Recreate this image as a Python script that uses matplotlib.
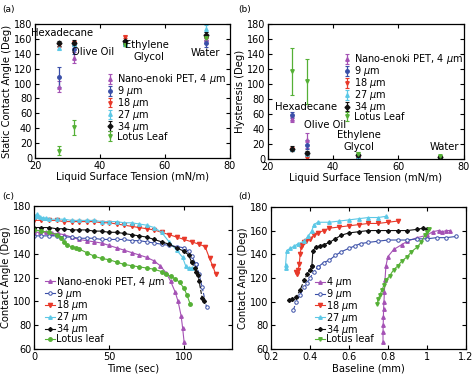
import numpy as np
import matplotlib
matplotlib.use('Agg')
import matplotlib.pyplot as plt

# ---- data ----
# liquid surface tensions (mN/m): hexadecane, olive oil, ethylene glycol, water
tension = [27.5, 32.0, 47.7, 72.8]

labels_ab = ['Nano-enoki PET, 4 $\\mu$m', '9 $\\mu$m', '18 $\\mu$m', '27 $\\mu$m', '34 $\\mu$m', 'Lotus Leaf']

# static contact angle (deg) and error
sca = [[96, 135, 155, 160],
       [109, 146, 153, 155],
       [152, 154, 163, 163],
       [148, 153, 153, 174],
       [154, 155, 157, 166],
       [10, 41, 152, 161]]
sca_err = [[7, 7, 2, 3],
           [13, 6, 2, 6],
           [3, 3, 2, 2],
           [3, 3, 2, 5],
           [3, 3, 2, 3],
           [6, 10, 2, 3]]

# hysteresis (deg) and error
hys = [[53, 25, 3, 3],
       [59, 19, 2, 2],
       [13, 2, 1, 2],
       [13, 7, 3, 3],
       [14, 8, 5, 3],
       [117, 104, 7, 4]]
hys_err = [[3, 10, 1, 1],
           [4, 6, 1, 1],
           [2, 2, 1, 1],
           [2, 2, 1, 1],
           [3, 3, 2, 1],
           [31, 30, 2, 1]]

# (c) contact angle vs time
t_4 = [0, 4, 8, 12, 16, 20, 25, 30, 35, 40, 45, 50, 55, 60, 65, 70, 75, 80, 84, 88, 91, 94, 96, 98, 99, 100]
c_4 = [158, 158, 158, 157, 157, 156, 154, 152, 151, 150, 149, 147, 145, 143, 141, 139, 137, 134, 130, 124, 117, 108, 100, 88, 78, 66]
t_9 = [0, 5, 10, 15, 20, 25, 30, 35, 40, 45, 50, 55, 60, 65, 70, 75, 80, 85, 90, 95, 100, 103, 105, 108]
c_9 = [155, 155, 155, 155, 154, 154, 153, 153, 153, 152, 152, 152, 152, 151, 151, 150, 149, 148, 147, 146, 145, 142, 138, 131]
t_9_tail = [108, 110, 112, 115]
c_9_tail = [131, 123, 112, 95]
t_18 = [0, 5, 10, 15, 20, 25, 30, 35, 40, 45, 50, 55, 60, 65, 70, 75, 80, 85, 90, 95, 100, 105, 110, 114, 117, 119, 121]
c_18 = [168, 168, 168, 168, 167, 167, 167, 167, 167, 166, 166, 165, 164, 163, 162, 161, 160, 158, 156, 154, 152, 150, 148, 146, 136, 130, 123]
t_27 = [0, 1, 2, 3, 4, 6, 8, 10, 15, 20, 25, 30, 35, 40, 45, 50, 55, 60, 65, 70, 75, 80, 85, 90, 95, 99, 101, 103, 105]
c_27 = [171, 172, 173, 172, 171, 170, 170, 169, 169, 169, 168, 168, 168, 168, 167, 167, 167, 166, 166, 165, 164, 162, 158, 150, 143, 137, 130, 128, 128]
t_34 = [0, 5, 10, 15, 20, 25, 30, 35, 40, 45, 50, 55, 60, 65, 70, 75, 80, 85, 90, 95, 100, 103, 105]
c_34 = [162, 162, 162, 161, 161, 160, 160, 160, 159, 159, 158, 158, 157, 156, 155, 154, 152, 150, 148, 145, 142, 139, 133]
t_34_tail = [105, 107, 108, 109, 110, 112, 113]
c_34_tail = [133, 128, 125, 122, 117, 103, 100]
t_lotus = [0, 5, 10, 15, 18, 20, 22, 25, 28, 30, 35, 40, 45, 50, 55, 60, 65, 70, 75, 80, 85, 88, 91, 94, 97, 100, 102, 104]
c_lotus = [160, 159, 158, 156, 153, 150, 147, 146, 145, 144, 141, 138, 136, 135, 133, 131, 130, 129, 128, 127, 125, 123, 121, 119, 116, 111, 105, 98]

# (d) contact angle vs baseline
b_4 = [0.775, 0.775, 0.776, 0.777, 0.778, 0.78, 0.782, 0.785, 0.79, 0.80, 0.83, 0.87, 0.9, 0.95, 1.0, 1.03, 1.06, 1.08, 1.1, 1.12]
d_4 = [66, 74, 80, 87, 94, 100, 108, 118, 130, 138, 144, 148, 151, 154, 156, 159, 160, 159, 160, 160]
b_9_head = [0.315, 0.33, 0.35, 0.37, 0.385, 0.40, 0.42, 0.44]
d_9_head = [93, 100, 106, 112, 116, 120, 125, 129]
b_9 = [0.44, 0.47, 0.5, 0.53, 0.56, 0.6, 0.63, 0.66, 0.7, 0.75, 0.8, 0.85, 0.9, 0.95, 1.0, 1.05, 1.1, 1.15]
d_9 = [129, 133, 135, 139, 142, 145, 147, 149, 150, 151, 152, 152, 152, 153, 153, 154, 154, 155]
b_18 = [0.33, 0.335, 0.34, 0.345, 0.35, 0.355, 0.36, 0.37, 0.38, 0.40, 0.42, 0.44, 0.47, 0.5, 0.55, 0.6, 0.65, 0.7, 0.75, 0.8, 0.85]
d_18 = [125, 123, 127, 132, 140, 146, 148, 150, 151, 153, 156, 158, 160, 162, 163, 164, 165, 166, 166, 167, 168]
b_27 = [0.275, 0.275, 0.28, 0.30, 0.32, 0.34, 0.37, 0.39, 0.41, 0.42, 0.44, 0.5, 0.55, 0.6, 0.65, 0.7, 0.75, 0.79]
d_27 = [128, 131, 143, 145, 147, 149, 151, 155, 160, 165, 167, 167, 168, 169, 170, 171, 171, 172]
b_34_head = [0.295, 0.31, 0.33, 0.35, 0.37, 0.385, 0.40, 0.41]
d_34_head = [101, 102, 104, 110, 118, 123, 127, 130]
b_34 = [0.41, 0.415, 0.43, 0.45, 0.47, 0.5, 0.53, 0.56, 0.6, 0.65, 0.7, 0.75, 0.8, 0.85, 0.9, 0.95, 0.98, 1.0]
d_34 = [130, 143, 146, 147, 148, 150, 153, 156, 158, 159, 160, 160, 160, 160, 160, 161, 162, 161]
b_lotus = [0.745, 0.75, 0.76, 0.77, 0.78, 0.79, 0.81, 0.83, 0.85, 0.87, 0.9, 0.92, 0.95, 0.97, 0.99, 1.0, 1.01]
d_lotus = [98, 102, 106, 110, 114, 118, 122, 127, 130, 134, 138, 142, 146, 150, 156, 159, 161]

# ---- style ----
colors = ['#a552b5', '#3a4fa8', '#e8392a', '#5cc8e6', '#111111', '#55b036']
mk_ab = ['^', 'o', 'v', '^', 'D', 'v']
fs = 7
lfs = 7.2  # axis labels / annotations

plt.rcParams['font.family'] = 'DejaVu Sans'
plt.rcParams['font.size'] = fs
plt.rcParams['mathtext.fontset'] = 'dejavusans'

fig = plt.figure(figsize=(4.74, 3.77), dpi=100)
ax_a = fig.add_axes([0.0738, 0.581, 0.411, 0.355])
ax_b = fig.add_axes([0.565, 0.578, 0.4135, 0.358])
ax_c = fig.add_axes([0.0717, 0.0743, 0.418, 0.379])
ax_d = fig.add_axes([0.5717, 0.0743, 0.411, 0.377])

leg_kw = dict(loc='upper left', frameon=False, fontsize=fs, labelspacing=-0.22,
              borderpad=0, borderaxespad=0)


def style(ax):
    ax.tick_params(direction='in', top=True, right=True, length=3, width=0.8, labelsize=fs, pad=2)
    for s in ax.spines.values():
        s.set_linewidth(0.9)


# (a) static contact angle
for i in range(6):
    ax_a.errorbar(tension, sca[i], yerr=sca_err[i], fmt=mk_ab[i], color=colors[i], ms=2.5,
                  elinewidth=0.9, capsize=1.5, capthick=0.8, label=labels_ab[i])
ax_a.set_xlim(20, 80)
ax_a.set_ylim(0, 180)
ax_a.set_xticks([20, 40, 60, 80])
ax_a.set_yticks(np.arange(0, 181, 20))
ax_a.set_xlabel('Liquid Surface Tension (mN/m)', fontsize=lfs, labelpad=1)
ax_a.set_ylabel('Static Contact Angle (Deg)', fontsize=lfs, labelpad=1)
ax_a.text(28.3, 168, 'Hexadecane', ha='center', va='center', fontsize=lfs)
ax_a.text(37.8, 142, 'Olive Oil', ha='center', va='center', fontsize=lfs)
ax_a.text(54.4, 152, 'Ethylene', ha='center', va='center', fontsize=lfs)
ax_a.text(55, 136, 'Glycol', ha='center', va='center', fontsize=lfs)
ax_a.text(72.6, 141, 'Water', ha='center', va='center', fontsize=lfs)
ax_a.legend(bbox_to_anchor=(0.37, 0.64), handlelength=0.6, handletextpad=0.4, **leg_kw)
style(ax_a)

# (b) hysteresis
for i in range(6):
    ax_b.errorbar(tension, hys[i], yerr=hys_err[i], fmt=mk_ab[i], color=colors[i], ms=2.5,
                  elinewidth=0.9, capsize=1.5, capthick=0.8, label=labels_ab[i])
ax_b.set_xlim(20, 80)
ax_b.set_ylim(0, 180)
ax_b.set_xticks([20, 40, 60, 80])
ax_b.set_yticks(np.arange(0, 181, 20))
ax_b.set_xlabel('Liquid Surface Tension (mN/m)', fontsize=lfs, labelpad=1)
ax_b.set_ylabel('Hysteresis (Deg)', fontsize=lfs, labelpad=1)
ax_b.text(31.6, 70, 'Hexadecane', ha='center', va='center', fontsize=lfs)
ax_b.text(37.5, 46, 'Olive Oil', ha='center', va='center', fontsize=lfs)
ax_b.text(48, 32, 'Ethylene', ha='center', va='center', fontsize=lfs)
ax_b.text(48, 16, 'Glycol', ha='center', va='center', fontsize=lfs)
ax_b.text(74, 16, 'Water', ha='center', va='center', fontsize=lfs)
ax_b.legend(bbox_to_anchor=(0.39, 0.79), handlelength=0.6, handletextpad=0.4, **leg_kw)
style(ax_b)

# (c) contact angle vs time
lw = 0.8
ms = 2.5
ax_c.plot(t_4, c_4, '-^', color=colors[0], lw=lw, ms=ms, label='Nano-enoki PET, 4 $\\mu$m')
ax_c.plot(t_9, c_9, '-o', color=colors[1], lw=lw, ms=ms, mfc='white', mew=0.7, label='9 $\\mu$m')
ax_c.plot(t_9_tail, c_9_tail, '--o', color=colors[1], lw=lw, ms=ms, mfc='white', mew=0.7)
ax_c.plot(t_18, c_18, '-v', color=colors[2], lw=lw, ms=ms + 0.5, label='18 $\\mu$m')
ax_c.plot(t_27, c_27, '-^', color=colors[3], lw=lw, ms=ms, label='27 $\\mu$m')
ax_c.plot(t_34, c_34, '-D', color=colors[4], lw=lw, ms=ms - 0.5, label='34 $\\mu$m')
ax_c.plot(t_34_tail, c_34_tail, '--D', color=colors[4], lw=lw, ms=ms - 0.5)
ax_c.plot(t_lotus, c_lotus, '-o', color=colors[5], lw=lw, ms=ms, label='Lotus leaf')
ax_c.set_xlim(0, 132)
ax_c.set_ylim(60, 180)
ax_c.set_xticks([0, 50, 100])
ax_c.set_yticks(np.arange(60, 181, 20))
ax_c.set_xlabel('Time (sec)', fontsize=lfs, labelpad=1)
ax_c.set_ylabel('Contact Angle (Deg)', fontsize=lfs, labelpad=1)
ax_c.legend(bbox_to_anchor=(0.056, 0.52), handlelength=1.0, handletextpad=0.1, **leg_kw)
style(ax_c)

# (d) contact angle vs baseline
ax_d.plot(b_4, d_4, '-^', color=colors[0], lw=lw, ms=ms, label='4 $\\mu$m')
ax_d.plot(b_9_head, d_9_head, '--o', color=colors[1], lw=lw, ms=ms, mfc='white', mew=0.7)
ax_d.plot(b_9, d_9, '-o', color=colors[1], lw=lw, ms=ms, mfc='white', mew=0.7, label='9 $\\mu$m')
ax_d.plot(b_18, d_18, '-v', color=colors[2], lw=lw, ms=ms + 0.5, label='18 $\\mu$m')
ax_d.plot(b_27, d_27, '-^', color=colors[3], lw=lw, ms=ms, label='27 $\\mu$m')
ax_d.plot(b_34_head, d_34_head, '--D', color=colors[4], lw=lw, ms=ms - 0.5)
ax_d.plot(b_34, d_34, '-D', color=colors[4], lw=lw, ms=ms - 0.5, label='34 $\\mu$m')
ax_d.plot(b_lotus, d_lotus, '-v', color=colors[5], lw=lw, ms=ms, label='Lotus leaf')
ax_d.set_xlim(0.2, 1.2)
ax_d.set_ylim(60, 180)
ax_d.set_xticks([0.2, 0.4, 0.6, 0.8, 1.0, 1.2])
ax_d.set_xticklabels(['0.2', '0.4', '0.6', '0.8', '1', '1.2'])
ax_d.set_yticks(np.arange(60, 181, 20))
ax_d.set_xlabel('Baseline (mm)', fontsize=lfs, labelpad=1)
ax_d.set_ylabel('Contact Angle (Deg)', fontsize=lfs, labelpad=1)
ax_d.legend(bbox_to_anchor=(0.228, 0.52), handlelength=1.0, handletextpad=0.1, **leg_kw)
style(ax_d)

# panel letters
fig.text(0.004, 0.975, '(a)', fontsize=6.5, va='center')
fig.text(0.502, 0.975, '(b)', fontsize=6.5, va='center')
fig.text(0.004, 0.478, '(c)', fontsize=6.5, va='center')
fig.text(0.502, 0.478, '(d)', fontsize=6.5, va='center')

fig.savefig('out.png', dpi=100)
